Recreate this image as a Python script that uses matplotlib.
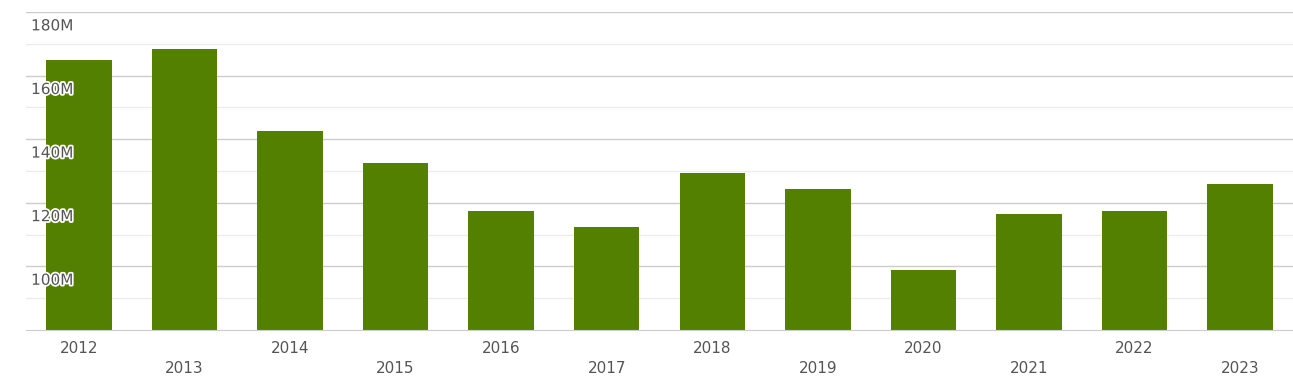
import numpy as np
import matplotlib.pyplot as plt
import matplotlib.patheffects as pe
from matplotlib.transforms import blended_transform_factory

# Yearly values, in millions
years = ['2012', '2013', '2014', '2015', '2016', '2017',
         '2018', '2019', '2020', '2021', '2022', '2023']
values = [164.9, 168.4, 142.6, 132.5, 117.4, 112.4,
          129.4, 124.3, 98.9, 116.5, 117.4, 125.9]

major_ticks = [100, 120, 140, 160, 180]
minor_ticks = [90, 110, 130, 150, 170]

bar_color = '#548000'
text_color = '#555555'

fig = plt.figure(figsize=(12.93, 3.84), dpi=100)
ax = fig.add_axes([0.0201, 0.1406, 0.9799, 0.8281])

x = np.arange(len(years))
ax.bar(x, values, width=0.62, color=bar_color, zorder=2)

ax.set_xlim(-0.5, len(years) - 0.5)
ax.set_ylim(80, 180)

# grid lines
for v in major_ticks:
    ax.axhline(v, color='#cccccc', lw=1, zorder=1)
for v in minor_ticks:
    ax.axhline(v, color='#ececec', lw=1, zorder=1)

for s in ['top', 'right', 'left']:
    ax.spines[s].set_visible(False)
ax.spines['bottom'].set_color('#cccccc')
ax.spines['bottom'].set_zorder(3)

ax.set_yticks([])
ax.set_xticks(x)
ax.set_xticklabels(years, fontsize=11, color=text_color)
ax.tick_params(axis='x', length=0)
for i, tick in enumerate(ax.xaxis.get_major_ticks()):
    tick.set_pad(8 if i % 2 == 0 else 22.5)

# y labels sit inside the plot with a white halo
trans = blended_transform_factory(ax.transAxes, ax.transData)
for v in major_ticks:
    ax.text(0.004, v - 2.0, f'{v}M', transform=trans, ha='left', va='top',
            fontsize=11, color=text_color, zorder=5,
            path_effects=[pe.withStroke(linewidth=2.5, foreground='white')])

fig.savefig('out.png', dpi=100)
